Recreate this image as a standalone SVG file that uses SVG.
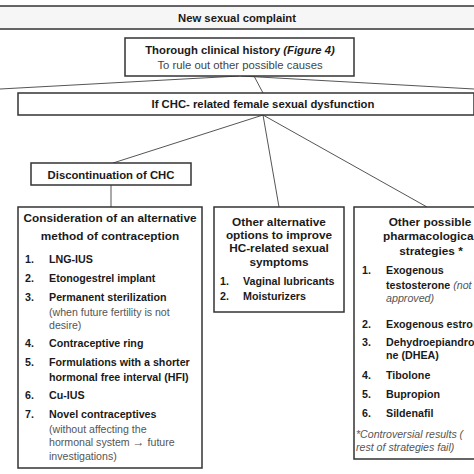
<svg xmlns="http://www.w3.org/2000/svg" width="474" height="474" viewBox="0 0 474 474">
<style>
.box{fill:#fff;stroke:#333;stroke-width:1.5}
.bar{fill:#f6f6f6;stroke:#333;stroke-width:1.5}
.con{stroke:#555;stroke-width:1;fill:none}
text{font-family:"Liberation Sans",Arial,sans-serif;fill:#1a1a1a}
.h{font-size:11.3px;font-weight:bold;text-anchor:middle}
.hs{font-size:11.3px;text-anchor:middle;fill:#444}
.t{font-size:11.8px;font-weight:bold;text-anchor:middle}
.i{font-size:10.7px;font-weight:bold}
.s{font-size:10.6px;fill:#555}
.it{font-style:italic;font-weight:normal;fill:#555}
</style>
<rect width="474" height="474" fill="#fff"/>
<g id="connectors">
<line class="con" x1="0" y1="89" x2="239" y2="76"/>
<line class="con" x1="241" y1="76" x2="474" y2="89"/>
<line class="con" x1="254" y1="76" x2="263" y2="93"/>
<line class="con" x1="263" y1="115" x2="113" y2="163"/>
<line class="con" x1="263" y1="115" x2="279" y2="207"/>
<line class="con" x1="263" y1="115" x2="427" y2="207"/>
<line class="con" x1="111" y1="185" x2="111" y2="207"/>
</g>
<g id="complaint">
<rect class="bar" x="-2" y="6" width="478" height="23"/>
<text class="h" x="237" y="22">New sexual complaint</text>
</g>
<g id="history">
<rect class="box" x="125" y="38" width="229" height="38"/>
<text class="h" x="240" y="54">Thorough clinical history <tspan font-style="italic">(Figure 4)</tspan></text>
<text class="hs" x="240" y="69">To rule out other possible causes</text>
</g>
<g id="chc">
<rect class="box" x="18" y="93" width="456" height="22"/>
<text class="h" x="263" y="108">If CHC- related female sexual dysfunction</text>
</g>
<g id="discontinuation">
<rect class="box" x="31" y="163" width="160" height="22"/>
<text class="h" x="111" y="179">Discontinuation of CHC</text>
</g>
<g id="alternative-method">
<rect class="box" x="18" y="207" width="184" height="261"/>
<text class="t" x="110" y="222">Consideration of an alternative</text>
<text class="t" x="110" y="240">method of contraception</text>
<text class="i" x="25" y="263">1.</text><text class="i" x="49" y="263">LNG-IUS</text>
<text class="i" x="25" y="282">2.</text><text class="i" x="49" y="282">Etonogestrel implant</text>
<text class="i" x="25" y="301">3.</text><text class="i" x="49" y="301">Permanent sterilization</text>
<text class="s" x="49" y="316">(when future fertility is not</text>
<text class="s" x="49" y="329">desire)</text>
<text class="i" x="25" y="347">4.</text><text class="i" x="49" y="347">Contraceptive ring</text>
<text class="i" x="25" y="366">5.</text><text class="i" x="49" y="366">Formulations with a shorter</text>
<text class="i" x="49" y="381">hormonal free interval (HFI)</text>
<text class="i" x="25" y="399">6.</text><text class="i" x="49" y="399">Cu-IUS</text>
<text class="i" x="25" y="418">7.</text><text class="i" x="49" y="418">Novel contraceptives</text>
<text class="s" x="49" y="433">(without affecting the</text>
<text class="s" x="49" y="446">hormonal system <tspan font-weight="bold" font-size="12px">→</tspan> future</text>
<text class="s" x="49" y="460">investigations)</text>
</g>
<g id="other-options">
<rect class="box" x="214" y="207" width="130" height="105"/>
<text class="t" x="279" y="226">Other alternative</text>
<text class="t" x="279" y="239">options to improve</text>
<text class="t" x="279" y="252">HC-related sexual</text>
<text class="t" x="279" y="266">symptoms</text>
<text class="i" x="220" y="285">1.</text><text class="i" x="243" y="285">Vaginal lubricants</text>
<text class="i" x="220" y="300">2.</text><text class="i" x="243" y="300">Moisturizers</text>
</g>
<g id="pharmacological">
<rect class="box" x="354" y="207" width="130" height="252"/>
<text class="t" x="430" y="226">Other possible</text>
<text class="t" x="383" y="240" style="text-anchor:start">pharmacologica</text>
<text class="t" x="431" y="255">strategies *</text>
<text class="i" x="362" y="274">1.</text><text class="i" x="386" y="274">Exogenous</text>
<text class="i" x="386" y="289">testosterone <tspan class="it">(not</tspan></text>
<text class="i" x="386" y="302"><tspan class="it">approved)</tspan></text>
<text class="i" x="362" y="328">2.</text><text class="i" x="386" y="328">Exogenous estro</text>
<text class="i" x="362" y="346">3.</text><text class="i" x="386" y="346">Dehydroepiandro</text>
<text class="i" x="386" y="359">ne (DHEA)</text>
<text class="i" x="362" y="379">4.</text><text class="i" x="386" y="379">Tibolone</text>
<text class="i" x="362" y="398">5.</text><text class="i" x="386" y="398">Bupropion</text>
<text class="i" x="362" y="417">6.</text><text class="i" x="386" y="417">Sildenafil</text>
<text class="s" x="356" y="438" font-style="italic">*Controversial results (</text>
<text class="s" x="356" y="451" font-style="italic">rest of strategies fail)</text>
</g>
</svg>
